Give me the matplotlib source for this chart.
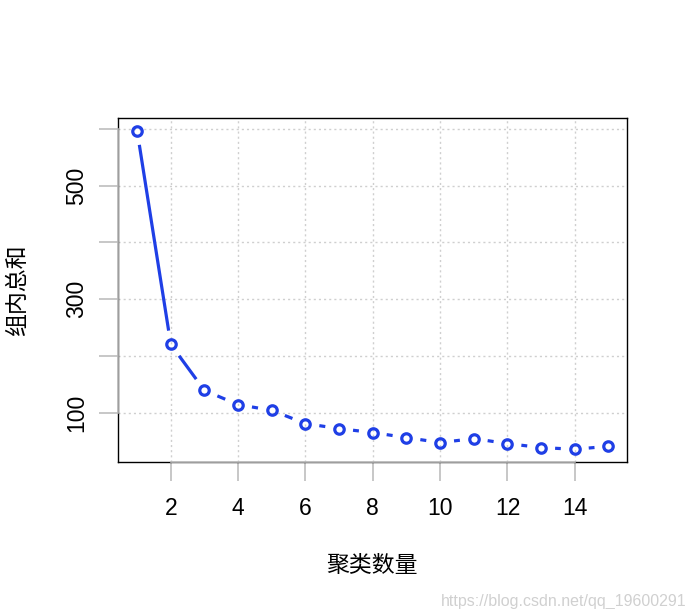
import numpy as np
import matplotlib
matplotlib.use('Agg')
import matplotlib.pyplot as plt

# elbow data: clusters vs within-group sum of squares
k_values = list(range(1, 16))
wss = [596, 220, 139, 114, 104, 80.6, 71.8, 64.8, 56, 47.2, 54.2, 45.4, 38.4, 35.4, 40.7]
x_ticks = [2, 4, 6, 8, 10, 12, 14]
y_ticks = [100, 200, 300, 400, 500, 600]
y_tick_labels = ['100', '', '300', '', '500', '']

BLUE = '#1f3fe6'
GAP_PX = 14  # R type="b" gap round each point

W, H = 688, 609
fig = plt.figure(figsize=(W / 100, H / 100), dpi=100)
ax = fig.add_axes([118.3 / W, (H - 462) / H, (627.3 - 118.3) / W, (462 - 118.3) / H])

# R-style 4% padding
xr = max(k_values) - min(k_values)
yr = max(wss) - min(wss)
ax.set_xlim(min(k_values) - 0.04 * xr, max(k_values) + 0.04 * xr)
ax.set_ylim(min(wss) - 0.04 * yr, max(wss) + 0.04 * yr)

for s in ax.spines.values():
    s.set_color('black')
    s.set_linewidth(1.0)

ax.grid(True, color='#cfcfcf', linestyle=(0, (1.5, 2.2)), linewidth=1.0)
ax.set_axisbelow(True)

ax.set_xticks(x_ticks)
ax.set_yticks(y_ticks)
ax.set_yticklabels(y_tick_labels, rotation=90, va='center')
ax.tick_params(axis='both', colors='#bebebe', labelcolor='black', length=14, width=1.2,
               labelsize=16.5)
ax.tick_params(axis='x', pad=11)
ax.tick_params(axis='y', pad=7.5)
for lab in ax.get_xticklabels() + ax.get_yticklabels():
    lab.set_family(['Liberation Sans', 'DejaVu Sans'])

# grey axis lines from first to last tick (drawn over the black box)
ax.plot([x_ticks[0], x_ticks[-1]], [ax.get_ylim()[0]] * 2, color='#bebebe', lw=1.2,
        clip_on=False, zorder=3)
ax.plot([ax.get_xlim()[0]] * 2, [y_ticks[0], y_ticks[-1]], color='#bebebe', lw=1.2,
        clip_on=False, zorder=3)

# line segments shortened near each point, like R type="b"
pts = ax.transData.transform(np.column_stack([k_values, wss]))
inv = ax.transData.inverted()
for p0, p1 in zip(pts[:-1], pts[1:]):
    d = p1 - p0
    L = np.hypot(*d)
    if L <= 2 * GAP_PX:
        continue
    u = d / L
    a = inv.transform(p0 + u * GAP_PX)
    b = inv.transform(p1 - u * GAP_PX)
    ax.plot([a[0], b[0]], [a[1], b[1]], color=BLUE, lw=2.3, solid_capstyle='butt', zorder=4)

ax.plot(k_values, wss, linestyle='none', marker='o', markersize=6.8, markerfacecolor='none',
        markeredgecolor=BLUE, markeredgewidth=2.3, zorder=5)

cjk = ['Noto Sans CJK SC', 'DejaVu Sans']
fig.text(372 / W, 1 - 565 / H, '聚类数量', family=cjk, fontsize=16.5, ha='center', va='center')
fig.text(18 / W, 1 - 290 / H, '组内总和', family=cjk, fontsize=16.5, ha='center', va='center',
         rotation=90)
fig.text(686 / W, 1 - 601 / H, 'https://blog.csdn.net/qq_19600291', color='#d0d0d0',
         family=['Liberation Sans', 'DejaVu Sans'], fontsize=11.5, ha='right', va='center')

fig.savefig('out.png', dpi=100)
